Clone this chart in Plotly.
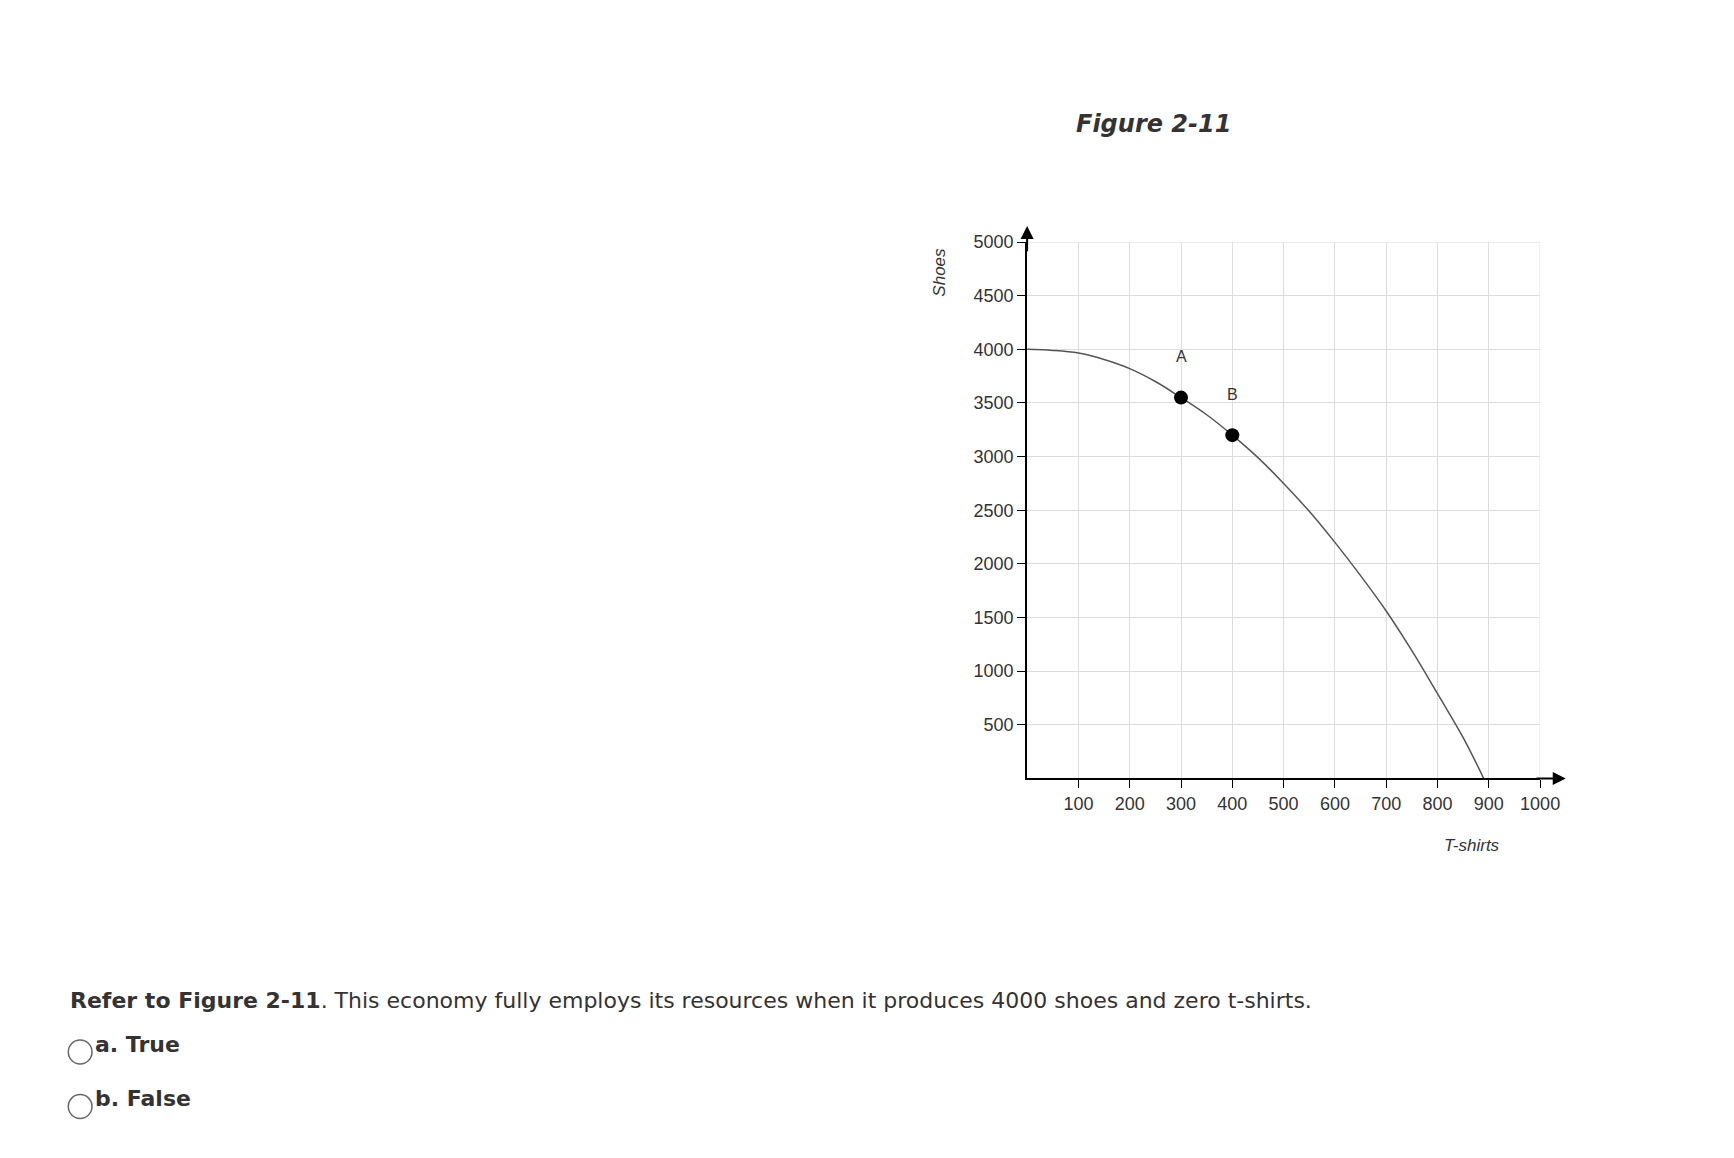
import plotly.graph_objects as go

curve_x = [0, 50, 100, 150, 200, 250, 300, 350, 400, 450, 500, 550, 600, 650, 700, 750, 800, 850, 890]
curve_y = [4000, 3990, 3965, 3905, 3820, 3700, 3550, 3390, 3200, 2990, 2750, 2490, 2200, 1890, 1560, 1190, 790, 380, 0]
pts_x = [300, 400]
pts_y = [3550, 3200]
pts_lbl = ["A", "B"]
xticks = [100, 200, 300, 400, 500, 600, 700, 800, 900, 1000]
yticks = [500, 1000, 1500, 2000, 2500, 3000, 3500, 4000, 4500, 5000]

fig = go.Figure()
fig.add_trace(go.Scatter(x=curve_x, y=curve_y, mode="lines", line=dict(color="#555", width=1.5, shape="spline"), showlegend=False))
fig.add_trace(go.Scatter(x=pts_x, y=pts_y, mode="markers", marker=dict(color="black", size=14), showlegend=False))
for x, y, t in zip(pts_x, pts_y, pts_lbl):
    fig.add_annotation(x=x, y=y + 380, text=t, showarrow=False, font=dict(size=16, color="#333", family="Liberation Sans"))

axfont = dict(size=18, color="#333", family="Liberation Sans")
fig.update_xaxes(domain=[1031/1734, 1550/1734], range=[0, 1000], tickvals=xticks, ticks="outside", ticklen=8,
                 tickcolor="black", showgrid=True, gridcolor="#ddd", showline=True, linecolor="black", linewidth=2,
                 zeroline=False, tickfont=axfont, mirror=False)
fig.update_yaxes(domain=[1-767/1158, 1-226/1158], range=[0, 5000], tickvals=yticks, ticks="outside", ticklen=8,
                 tickcolor="black", showgrid=True, gridcolor="#ddd", showline=True, linecolor="black", linewidth=2,
                 zeroline=False, tickfont=axfont)
fig.add_shape(type="line", x0=0, x1=1000, y0=5000, y1=5000, line=dict(color="#ddd", width=1))
fig.add_shape(type="line", x0=1000, x1=1000, y0=0, y1=5000, line=dict(color="#ddd", width=1))
fig.add_annotation(x=0, y=5150, ax=0, ay=4900, xref="x", yref="y", axref="x", ayref="y", showarrow=True,
                   arrowhead=2, arrowsize=1.3, arrowwidth=2, arrowcolor="black", text="")
fig.add_annotation(x=1050, y=0, ax=990, ay=0, xref="x", yref="y", axref="x", ayref="y", showarrow=True,
                   arrowhead=2, arrowsize=1.3, arrowwidth=2, arrowcolor="black", text="")
fig.add_annotation(x=942/1734, y=1-230/1158, xref="paper", yref="paper", text="<i>Shoes</i>", textangle=-90,
                   showarrow=False, font=dict(size=17, color="#333", family="Liberation Sans"))
fig.add_annotation(x=1511/1734, y=1-846/1158, xref="paper", yref="paper", text="<i>T-shirts</i>",
                   showarrow=False, font=dict(size=17, color="#333", family="Liberation Sans"))
fig.add_annotation(x=1239/1734, y=1-91/1158, xref="paper", yref="paper", text="<b><i>Figure 2-11</i></b>",
                   showarrow=False, font=dict(size=24, color="#333", family="DejaVu Sans"))
tf = dict(size=22, color="#333", family="DejaVu Sans")
fig.add_annotation(x=61/1734, y=1-1006/1158, xref="paper", yref="paper", xanchor="left",
                   text="<b>Refer to Figure 2-11</b>. This economy fully employs its resources when it produces 4000 shoes and zero t-shirts.",
                   showarrow=False, font=tf)
for yy, t in [(1050, "<b>a. True</b>"), (1105, "<b>b. False</b>")]:
    fig.add_annotation(x=86/1734, y=1-yy/1158, xref="paper", yref="paper", xanchor="left", text=t, showarrow=False, font=tf)
    fig.add_shape(type="circle", xref="paper", yref="paper", x0=61/1734, x1=85/1734, y0=1-(yy+5)/1158, y1=1-(yy-19)/1158,
                  line=dict(color="#666", width=1.5))
fig.update_layout(width=1734, height=1158, margin=dict(l=0, r=0, t=0, b=0), plot_bgcolor="white", paper_bgcolor="white")
fig.write_html("out.html")
